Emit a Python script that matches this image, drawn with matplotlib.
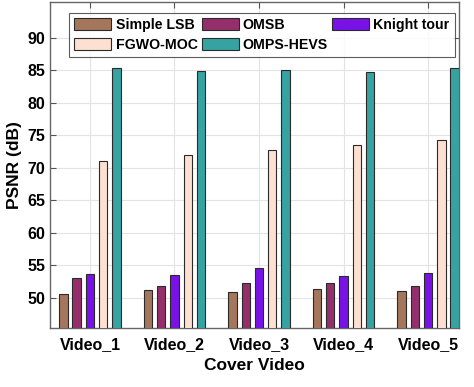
import numpy as np
import matplotlib.pyplot as plt

plt.rcParams['font.family'] = ['Liberation Sans', 'DejaVu Sans']
plt.rcParams['font.weight'] = 'bold'

videos = ["Video_1", "Video_2", "Video_3", "Video_4", "Video_5"]
methods = ["Simple LSB", "OMSB", "Knight tour", "FGWO-MOC", "OMPS-HEVS"]
simple_lsb = [50.6, 51.2, 50.9, 51.3, 51.1]
omsb = [53.1, 51.9, 52.3, 52.3, 51.9]
knight_tour = [53.7, 53.5, 54.6, 53.3, 53.8]
fgwo_moc = [71.1, 71.9, 72.7, 73.5, 74.3]
omps_hevs = [85.3, 84.9, 85.1, 84.7, 85.3]
colors = ["#a4775c", "#952f6c", "#7812e6", "#fde0d2", "#36a3a2"]

series = [simple_lsb, omsb, knight_tour, fgwo_moc, omps_hevs]

fig = plt.figure(figsize=(4.74, 3.87), dpi=100)
ax = fig.add_axes([0.106, 0.153, 0.863, 0.842])

x = np.arange(1, len(videos) + 1)
step = 0.157
width = 0.1
bars = []
for i, (vals, name, c) in enumerate(zip(series, methods, colors)):
    b = ax.bar(x + (i - 2) * step, vals, width, color=c, edgecolor="#2a2a2a",
               linewidth=0.8, label=name, zorder=3)
    bars.append(b)

ax.set_xlim(0.53, 5.37)
ax.set_ylim(45.4, 95.5)
ax.set_xticks(x)
ax.set_xticklabels(videos)
ax.set_yticks([50, 55, 60, 65, 70, 75, 80, 85, 90])
ax.tick_params(axis="both", labelsize=11.5, direction="in", top=True, right=True,
               color="#555555", length=4)
ax.tick_params(axis="x", pad=7)
ax.grid(True, color="#e3e3e3", linewidth=0.8, zorder=0)
for s in ax.spines.values():
    s.set_color("#666666")
    s.set_linewidth(1.0)
ax.set_xlabel("Cover Video", fontsize=12.5, fontweight="bold", labelpad=4)
ax.set_ylabel("PSNR (dB)", fontsize=12.5, fontweight="bold", labelpad=4)

# legend filled row by row like the original (matplotlib fills by column)
order = [0, 3, 1, 4, 2]
leg = ax.legend([bars[k] for k in order], [methods[k] for k in order],
                ncol=3, loc="upper left",
                bbox_to_anchor=(0.047, 0.967),
                fontsize=10.2, frameon=True, fancybox=False, edgecolor="#333333",
                handlelength=2.6, handleheight=1.0, columnspacing=0.3,
                handletextpad=0.3, labelspacing=0.4, borderpad=0.35,
                borderaxespad=0)
leg.get_frame().set_linewidth(0.8)

fig.savefig("out.png", dpi=100)
